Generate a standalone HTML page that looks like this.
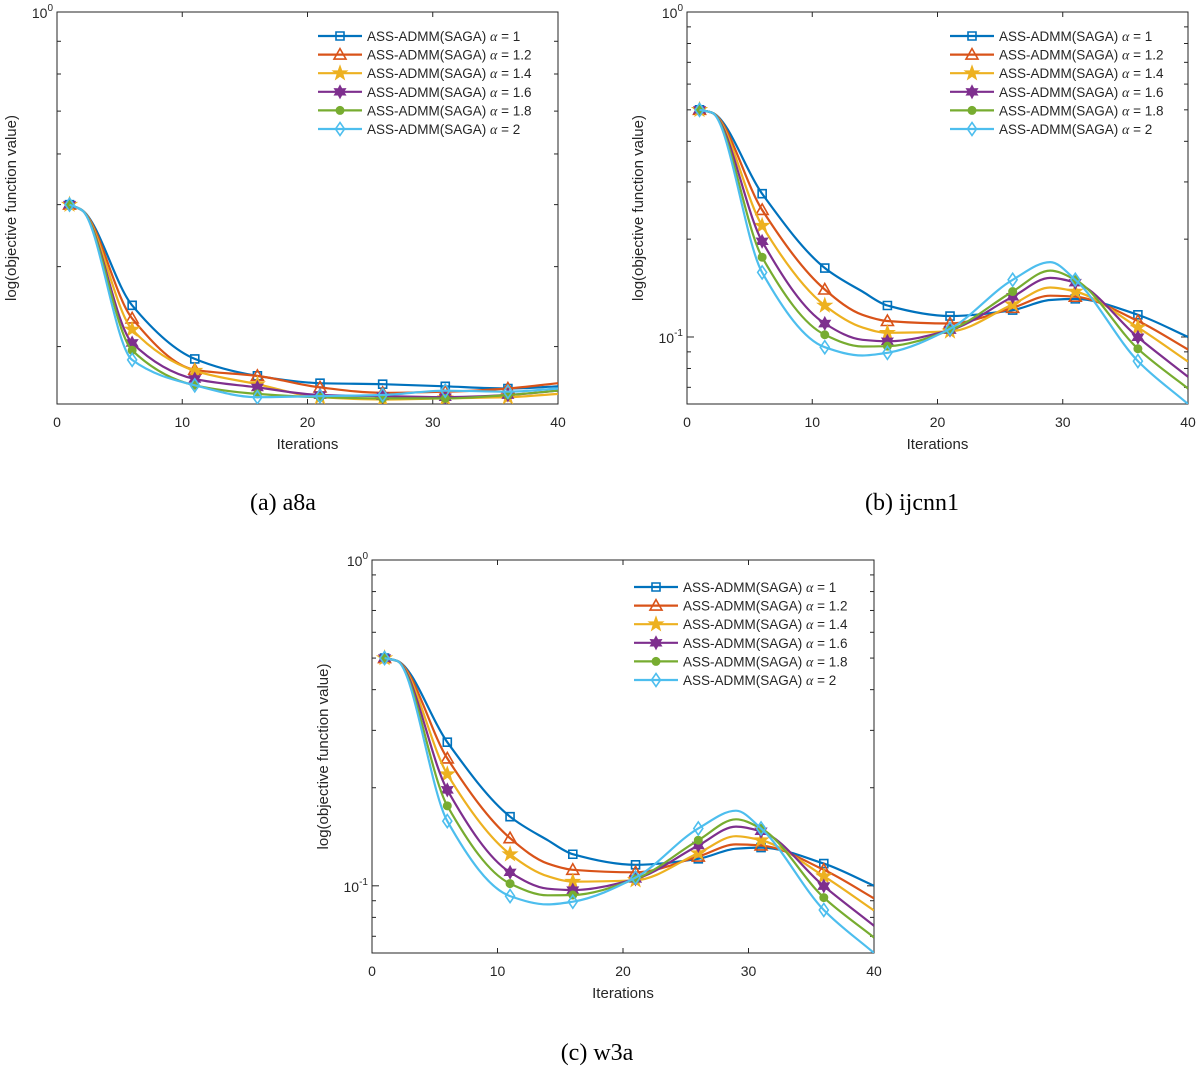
<!DOCTYPE html>
<html><head><meta charset="utf-8">
<style>
html,body{margin:0;padding:0;background:#fff;}
svg text{font-family:"Liberation Sans",Arial,sans-serif;}
.cap{font-family:"Liberation Serif","Times New Roman",serif;font-size:24px;fill:#000;}
</style></head>
<body>
<svg id="fig" width="1200" height="1068" viewBox="0 0 1200 1068" xmlns="http://www.w3.org/2000/svg">
<text class="cap" x="283" y="510" text-anchor="middle">(a) a8a</text>
<text class="cap" x="912" y="510" text-anchor="middle">(b) ijcnn1</text>
<text class="cap" x="597" y="1060" text-anchor="middle">(c) w3a</text>
</svg>
<script>
// ---- data ----
const alphaLabels = ["1","1.2","1.4","1.6","1.8","2"];
const colors = ["#0072BD","#D95319","#EDB120","#7E2F8E","#77AC30","#4DBEEE"];
const markerTypes = ["square","triangle","star","hexagram","circle","diamond"];
const xTicks = [0,10,20,30,40];
const markerIters = [1,6,11,16,21,26,31,36];

// (a) a8a
const itersA = [1,2,6,11,16,21,26,31,36,40];
const a8a_a10 = [0.50,0.49,0.348,0.287,0.270,0.263,0.262,0.260,0.258,0.260];
const a8a_a12 = [0.50,0.49,0.332,0.276,0.270,0.259,0.254,0.255,0.258,0.263];
const a8a_a14 = [0.50,0.49,0.319,0.275,0.262,0.250,0.248,0.249,0.250,0.253];
const a8a_a16 = [0.50,0.49,0.304,0.267,0.259,0.252,0.251,0.250,0.252,0.256];
const a8a_a18 = [0.50,0.49,0.296,0.261,0.253,0.250,0.249,0.249,0.252,0.256];
const a8a_a20 = [0.50,0.49,0.286,0.261,0.250,0.251,0.252,0.256,0.255,0.258];

// (b) ijcnn1
const itersB = [1,2,6,11,14,16,21,26,29,31,36,40];
const ijcnn1_a10 = [0.50,0.49,0.276,0.163,0.138,0.125,0.116,0.121,0.130,0.131,0.117,0.100];
const ijcnn1_a12 = [0.50,0.49,0.246,0.140,0.117,0.112,0.110,0.123,0.134,0.133,0.112,0.0915];
const ijcnn1_a14 = [0.50,0.49,0.220,0.125,0.107,0.103,0.104,0.126,0.142,0.138,0.107,0.084];
const ijcnn1_a16 = [0.50,0.49,0.197,0.110,0.098,0.097,0.105,0.133,0.152,0.147,0.0998,0.0754];
const ijcnn1_a18 = [0.50,0.49,0.176,0.1016,0.0935,0.0937,0.105,0.138,0.160,0.150,0.092,0.0694];
const ijcnn1_a20 = [0.50,0.49,0.158,0.093,0.0877,0.0894,0.106,0.150,0.170,0.150,0.0843,0.0622];

// (c) w3a
const itersC = [1,2,6,11,14,16,21,26,29,31,36,40];
const w3a_a10 = [0.50,0.49,0.276,0.163,0.138,0.125,0.116,0.121,0.130,0.131,0.117,0.100];
const w3a_a12 = [0.50,0.49,0.246,0.140,0.117,0.112,0.110,0.123,0.134,0.133,0.112,0.0915];
const w3a_a14 = [0.50,0.49,0.220,0.125,0.107,0.103,0.104,0.126,0.142,0.138,0.107,0.084];
const w3a_a16 = [0.50,0.49,0.197,0.110,0.098,0.097,0.105,0.133,0.152,0.147,0.0998,0.0754];
const w3a_a18 = [0.50,0.49,0.176,0.1016,0.0935,0.0937,0.105,0.138,0.160,0.150,0.092,0.0694];
const w3a_a20 = [0.50,0.49,0.158,0.093,0.0877,0.0894,0.106,0.150,0.170,0.150,0.0843,0.0622];

const NS = "http://www.w3.org/2000/svg";
const fig = document.getElementById("fig");
function mk(tag, attrs, parent){
  const e = document.createElementNS(NS, tag);
  for (const k in attrs) e.setAttribute(k, attrs[k]);
  (parent||fig).appendChild(e);
  return e;
}

function markerPath(type, cx, cy){
  if (type==="square") return `M${cx-4},${cy-4}h8v8h-8z`;
  if (type==="triangle") return `M${cx},${cy-6}L${cx+6},${cy+4.5}L${cx-6},${cy+4.5}Z`;
  if (type==="diamond") return `M${cx},${cy-6.5}L${cx+4.5},${cy}L${cx},${cy+6.5}L${cx-4.5},${cy}Z`;
  if (type==="star" || type==="hexagram"){
    const n = type==="star"?5:6, ro = type==="star"?7.5:6.5, ri = type==="star"?3:3.6;
    let d="";
    for(let i=0;i<2*n;i++){
      const a = -Math.PI/2 + i*Math.PI/n, rr = i%2?ri:ro;
      d += (i?"L":"M")+(cx+rr*Math.cos(a)).toFixed(1)+","+(cy+rr*Math.sin(a)).toFixed(1);
    }
    return d+"Z";
  }
  return "";
}
function drawMarker(g, type, color, cx, cy){
  if (type==="circle"){
    const c = mk("circle",{cx:cx,cy:cy,r:4,fill:color,stroke:color,"stroke-width":1},g);
    
    
    return;
  }
  const filled = (type==="star"||type==="hexagram");
  const p = mk("path",{d:markerPath(type,cx,cy),fill:filled?color:"none",stroke:color,"stroke-width":filled?1:1.6},g);
  
  
}

// monotone cubic (Fritsch-Carlson)
function monotone(pts){
  const n=pts.length, dx=[], m=[], t=[];
  for(let i=0;i<n-1;i++){ dx[i]=pts[i+1][0]-pts[i][0]; m[i]=(pts[i+1][1]-pts[i][1])/dx[i]; }
  t[0]=m[0]; t[n-1]=m[n-2];
  for(let i=1;i<n-1;i++){
    if (m[i-1]*m[i]<=0) t[i]=0;
    else { const w1=2*dx[i]+dx[i-1], w2=dx[i]+2*dx[i-1]; t[i]=(w1+w2)/(w1/m[i-1]+w2/m[i]); }
  }
  let d=`M${pts[0][0].toFixed(1)},${pts[0][1].toFixed(1)}`;
  for(let i=0;i<n-1;i++){
    const h=dx[i]/3;
    d+=`C${(pts[i][0]+h).toFixed(1)},${(pts[i][1]+t[i]*h).toFixed(1)} ${(pts[i+1][0]-h).toFixed(1)},${(pts[i+1][1]-t[i+1]*h).toFixed(1)} ${pts[i+1][0].toFixed(1)},${pts[i+1][1].toFixed(1)}`;
  }
  return d;
}

function drawChart(cfg){
  const {name,L,R,T,B,yMin,yMax,minorTicks,decades,iters,series,legX,legY,ylabX} = cfg;
  const g = mk("g",{});
  
  
  const sx = x => L + (x-0)/(40-0)*(R-L);
  const lmin=Math.log10(yMin), lmax=Math.log10(yMax);
  const sy = v => B - (Math.log10(v)-lmin)/(lmax-lmin)*(B-T);
  const clipId = "clip-"+name;
  const cp = mk("clipPath",{id:clipId},g);
  mk("rect",{x:L,y:T,width:R-L,height:B-T},cp);
  const box = mk("rect",{x:L,y:T,width:R-L,height:B-T,fill:"none",stroke:"#262626","stroke-width":1},g);
  
  
  xTicks.forEach(t=>{
    const x=sx(t);
    mk("line",{x1:x,y1:B,x2:x,y2:B-5,stroke:"#262626"},g);
    mk("line",{x1:x,y1:T,x2:x,y2:T+5,stroke:"#262626"},g);
    const tx = mk("text",{x:x,y:B+23,"text-anchor":"middle","font-size":"14",fill:"#262626"},g);
    tx.textContent = t;
    
    
  });
  minorTicks.forEach(v=>{
    const y=sy(v);
    mk("line",{x1:L,y1:y,x2:L+4,y2:y,stroke:"#262626"},g);
    mk("line",{x1:R,y1:y,x2:R-4,y2:y,stroke:"#262626"},g);
  });
  decades.forEach(e=>{
    const y=sy(Math.pow(10,e));
    mk("line",{x1:L,y1:y,x2:L+7,y2:y,stroke:"#262626"},g);
    mk("line",{x1:R,y1:y,x2:R-7,y2:y,stroke:"#262626"},g);
    const tx = mk("text",{x:L-4,y:y+6,"text-anchor":"end","font-size":"14",fill:"#262626"},g);
    
    
    tx.appendChild(document.createTextNode("10"));
    const ts = mk("tspan",{dy:-7,"font-size":"10"},tx);
    ts.textContent = String(e);
  });
  const xl = mk("text",{x:(L+R)/2,y:B+45,"text-anchor":"middle","font-size":"15",fill:"#262626"},g);
  xl.textContent="Iterations";
  
  
  const yl = mk("text",{x:0,y:0,"text-anchor":"middle","font-size":"15",fill:"#262626",transform:`translate(${ylabX},${(T+B)/2}) rotate(-90)`},g);
  yl.textContent="log(objective function value)";
  
  
  series.forEach((vals,si)=>{
    const sg = mk("g",{"clip-path":`url(#${clipId})`},g);
    
    
    const pts = iters.map((it,i)=>[sx(it),sy(vals[i])]);
    const ln = mk("path",{d:monotone(pts),fill:"none",stroke:colors[si],"stroke-width":2.2},sg);
    
    
    iters.forEach((it,i)=>{
      if (markerIters.indexOf(it)>=0) drawMarker(sg,markerTypes[si],colors[si],sx(it),sy(vals[i]));
    });
  });
  const lg = mk("g",{},g);
  
  
  alphaLabels.forEach((a,i)=>{
    const y = legY + i*18.6;
    const eg = mk("g",{},lg);
    
    
    mk("line",{x1:legX,y1:y,x2:legX+44,y2:y,stroke:colors[i],"stroke-width":2.2},eg);
    drawMarker(eg,markerTypes[i],colors[i],legX+22,y);
    const t = mk("text",{x:legX+49,y:y+5,"font-size":"13.5",fill:"#262626"},eg);
    t.appendChild(document.createTextNode("ASS-ADMM(SAGA) "));
    const al = mk("tspan",{"font-family":"Liberation Serif,serif","font-style":"italic","font-size":"14"},t);
    al.textContent="α";
    t.appendChild(document.createTextNode(" = "+a));
  });
}

const minorFull = [0.07,0.08,0.09,0.2,0.3,0.4,0.5,0.6,0.7,0.8,0.9];
drawChart({name:"a8a",L:57,R:558,T:12,B:404,yMin:0.244,yMax:1,minorTicks:[0.3,0.4,0.5,0.6,0.7,0.8,0.9],decades:[0],
  iters:itersA,series:[a8a_a10,a8a_a12,a8a_a14,a8a_a16,a8a_a18,a8a_a20],legX:318,legY:36,ylabX:16});
drawChart({name:"ijcnn1",L:687,R:1188,T:12,B:404,yMin:0.0622,yMax:1,minorTicks:minorFull,decades:[0,-1],
  iters:itersB,series:[ijcnn1_a10,ijcnn1_a12,ijcnn1_a14,ijcnn1_a16,ijcnn1_a18,ijcnn1_a20],legX:950,legY:36,ylabX:643});
drawChart({name:"w3a",L:372,R:874,T:560,B:953,yMin:0.0622,yMax:1,minorTicks:minorFull,decades:[0,-1],
  iters:itersC,series:[w3a_a10,w3a_a12,w3a_a14,w3a_a16,w3a_a18,w3a_a20],legX:634,legY:587,ylabX:328});
</script>
</body></html>
